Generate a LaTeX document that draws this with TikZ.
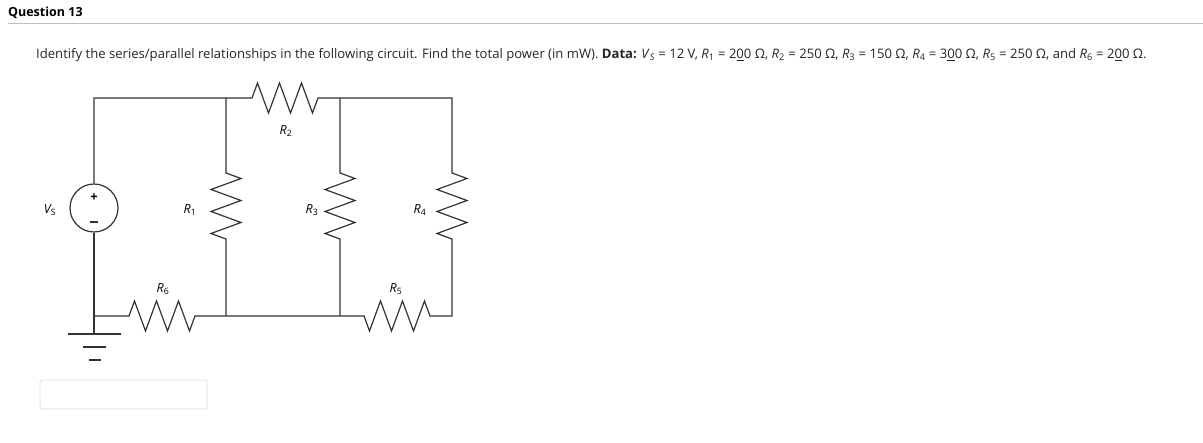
\documentclass[tikz,border=0pt]{standalone}
\usepackage{fontspec}
\setmainfont{Open Sans}
\begin{document}
\begin{tikzpicture}[x=1pt,y=-1pt,
  wire/.style={draw=black!80,line width=1.2pt,line join=miter},
  lbl/.style={font=\fontsize{12.5}{13}\selectfont\itshape,inner sep=0pt}]
\useasboundingbox (0,0) rectangle (1203,443);
\node[anchor=west,font=\fontsize{12.5}{14}\selectfont\bfseries,inner sep=0pt] (title) at (8,13) {Question 13};
\draw[black!25,line width=0.8pt] (8,23) -- (1203,23);
\node[anchor=west,font=\fontsize{13.1}{15}\selectfont,inner sep=0pt,text=black!85] (q) at (36,55)
 {Identify the series/parallel relationships in the following circuit. Find the total power (in mW). \textbf{Data:} \textit{V}\textsubscript{\textit{S}} = 12 V, \textit{R}\textsubscript{1} = 2\underline{0}0 Ω, \textit{R}\textsubscript{2} = 250 Ω, \textit{R}\textsubscript{3} = 150 Ω, \textit{R}\textsubscript{4} = 3\underline{0}0 Ω, \textit{R}\textsubscript{5} = 250 Ω, and \textit{R}\textsubscript{6} = 2\underline{0}0 Ω.};
% nodes
\coordinate (tl) at (94,98); \coordinate (t1) at (226,98); \coordinate (t3) at (340,98); \coordinate (tr) at (452,98);
\coordinate (bl) at (94,316); \coordinate (b1) at (226,316); \coordinate (b3) at (340,316); \coordinate (br) at (452,316);
\node[circle,draw=black!80,line width=1.2pt,minimum size=48pt,inner sep=0pt] (vs) at (94,208) {};
% wires
\path[wire] (vs.north) -- (tl) -- (t1) -- (252,98) -- ++(5.5,-15) -- ++(11,30) -- ++(11,-30) -- ++(11,30) -- ++(11,-30) -- ++(11,30) -- ++(5.5,-15) -- (t3) -- (tr)
  -- (452,173) -- ++(15,5.5) -- ++(-30,11) -- ++(30,11) -- ++(-30,11) -- ++(30,11) -- ++(-30,11) -- ++(15,5.5) -- (br)
  -- (430,316) -- ++(-5.5,-15) -- ++(-11,30) -- ++(-11,-30) -- ++(-11,30) -- ++(-11,-30) -- ++(-11,30) -- ++(-5.5,-15) -- (b3) -- (b1)
  -- (195,316) -- ++(-5.5,15) -- ++(-11,-30) -- ++(-11,30) -- ++(-11,-30) -- ++(-11,30) -- ++(-11,-30) -- ++(-5.5,15) -- (bl);
\path[wire] (t1) -- (226,173) -- ++(15,5.5) -- ++(-30,11) -- ++(30,11) -- ++(-30,11) -- ++(30,11) -- ++(-30,11) -- ++(15,5.5) -- (b1);
\path[wire] (t3) -- (340,173) -- ++(15,5.5) -- ++(-30,11) -- ++(30,11) -- ++(-30,11) -- ++(30,11) -- ++(-30,11) -- ++(15,5.5) -- (b3);
\coordinate (g) at (94,334);
\path[wire] (vs.south) -- (bl) -- (g);
\path[wire] (68,334) -- (121,334) (83,347) -- (106,347) (89,360) -- (101,360);
\node[font=\bfseries\fontsize{13}{13}\selectfont,inner sep=0pt] (plus) at (94,198) {+};
\draw[black!80,line width=1.3pt] (90,222) -- (98,222);
% labels
\node[lbl] (lvs) at (50,210) {V\textsubscript{\upshape S}};
\node[lbl] (l1) at (190,210) {R\textsubscript{\upshape 1}};
\node[lbl] (l2) at (286,131) {R\textsubscript{\upshape 2}};
\node[lbl] (l3) at (312,210) {R\textsubscript{\upshape 3}};
\node[lbl] (l4) at (420,210) {R\textsubscript{\upshape 4}};
\node[lbl] (l5) at (396,289) {R\textsubscript{\upshape 5}};
\node[lbl] (l6) at (163,289) {R\textsubscript{\upshape 6}};
\draw[black!15,rounded corners=2pt,line width=0.8pt] (40,380) rectangle (207,409);
\end{tikzpicture}
\end{document}
